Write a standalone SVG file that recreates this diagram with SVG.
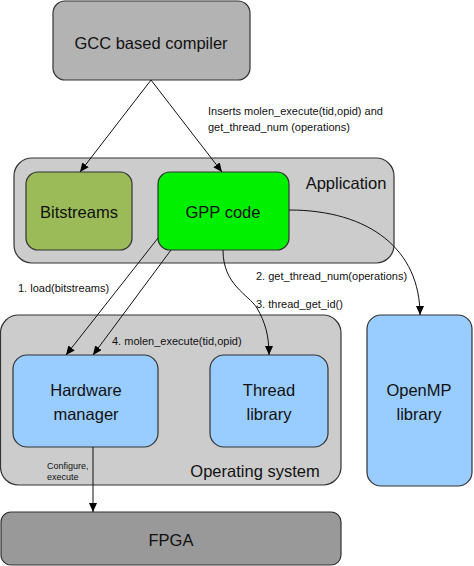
<svg xmlns="http://www.w3.org/2000/svg" width="474" height="566" viewBox="0 0 474 566">
<defs>
<marker id="arr" markerWidth="10" markerHeight="8" refX="9" refY="4" orient="auto" markerUnits="userSpaceOnUse">
<path d="M0,0 L9,4 L0,8 Z" fill="#000"/>
</marker>
<style>
.box{stroke:#333;stroke-width:1.2}
.cont{fill:#cccccc}
.blue{fill:#99ccff}
.t{font-family:"Liberation Sans",Arial,sans-serif;font-size:16.5px;fill:#111;text-anchor:middle}
.s{font-family:"Liberation Sans",Arial,sans-serif;font-size:11px;fill:#111}
.xs{font-family:"Liberation Sans",Arial,sans-serif;font-size:9px;fill:#111}
.c{fill:none;stroke:#111;stroke-width:1}
</style>
</defs>
<rect width="474" height="566" fill="#fff"/>
<g id="application">
<rect class="box cont" x="14" y="158" width="380" height="105" rx="18"/>
<text class="t" x="346" y="189">Application</text>
</g>
<g id="os">
<rect class="box cont" x="0.5" y="315" width="340.5" height="170" rx="18"/>
<text class="t" x="255" y="477">Operating system</text>
</g>
<g id="gcc">
<rect class="box" fill="#b3b3b3" x="53" y="1" width="197" height="79" rx="12"/>
<text class="t" x="151" y="49">GCC based compiler</text>
</g>
<g id="bitstreams">
<rect class="box" fill="#9bbb59" x="26" y="172" width="106" height="78" rx="12"/>
<text class="t" x="79" y="218">Bitstreams</text>
</g>
<g id="gpp">
<rect class="box" fill="#00f000" x="158" y="172" width="131" height="78" rx="12"/>
<text class="t" x="223" y="218">GPP code</text>
</g>
<g id="hwmanager">
<rect class="box blue" x="13" y="355" width="145" height="92" rx="14"/>
<text class="t" x="86" y="396">Hardware</text>
<text class="t" x="86" y="420">manager</text>
</g>
<g id="threadlib">
<rect class="box blue" x="210" y="355" width="118" height="92" rx="14"/>
<text class="t" x="269" y="396">Thread</text>
<text class="t" x="269" y="420">library</text>
</g>
<g id="openmp">
<rect class="box blue" x="367" y="315" width="105" height="171" rx="14"/>
<text class="t" x="419" y="396">OpenMP</text>
<text class="t" x="419" y="420">library</text>
</g>
<g id="fpga">
<rect class="box" fill="#999999" x="1" y="512" width="340" height="53" rx="10"/>
<text class="t" x="171" y="546">FPGA</text>
</g>
<g id="connectors">
<path class="c" d="M151,80 L80,172" marker-end="url(#arr)"/>
<path class="c" d="M151,80 L222,172" marker-end="url(#arr)"/>
<path class="c" d="M158,238 L66,355" marker-end="url(#arr)"/>
<path class="c" d="M171,250 L93,355" marker-end="url(#arr)"/>
<path class="c" d="M223,250 C223,285 248,294 257,308 C265,322 269,335 269,355" marker-end="url(#arr)"/>
<path class="c" d="M289,210 C370,210 420,250 420,315" marker-end="url(#arr)"/>
<path class="c" d="M93,447 L93,512" marker-end="url(#arr)"/>
<text class="s" x="208" y="115">Inserts molen_execute(tid,opid) and</text>
<text class="s" x="208" y="131">get_thread_num (operations)</text>
<text class="s" x="256" y="280">2. get_thread_num(operations)</text>
<text class="s" x="18" y="292">1. load(bitstreams)</text>
<text class="s" x="256" y="308">3. thread_get_id()</text>
<text class="s" x="112" y="345">4. molen_execute(tid,opid)</text>
<text class="xs" x="47" y="469">Configure,</text>
<text class="xs" x="47" y="480">execute</text>
</g>
</svg>
